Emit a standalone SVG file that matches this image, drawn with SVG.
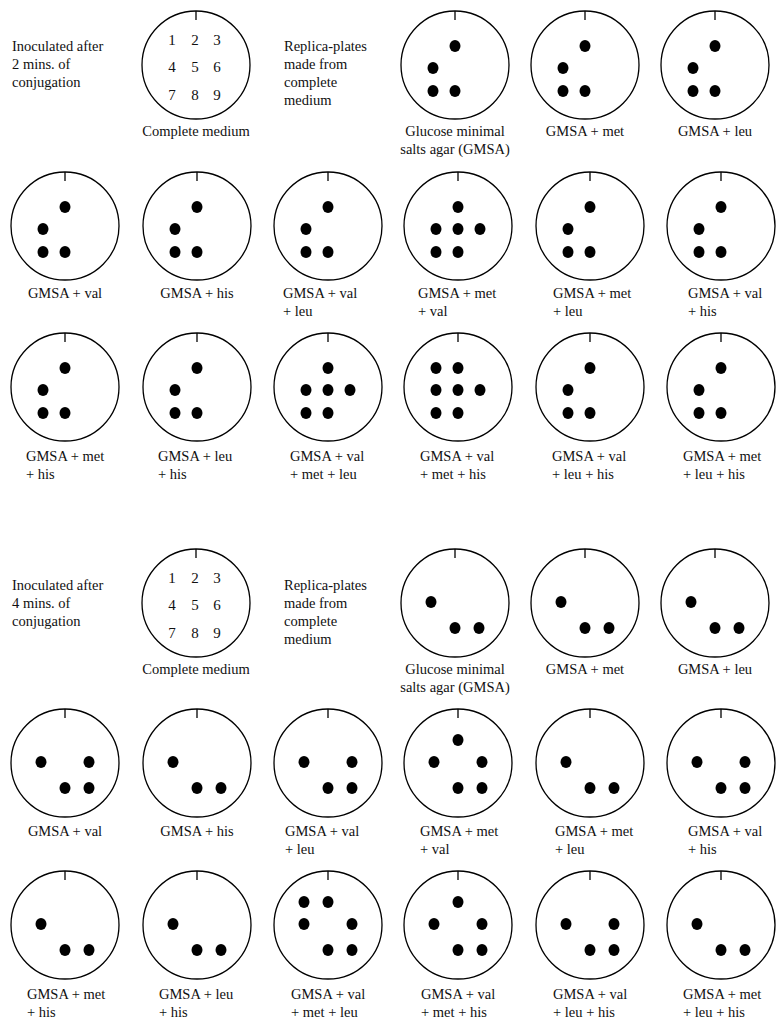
<svg xmlns="http://www.w3.org/2000/svg" width="779" height="1024" viewBox="0 0 779 1024">
<style>
.p{fill:none;stroke:#000;stroke-width:1.3}
.d{fill:#000}
text{font-family:"Liberation Serif",serif;font-size:14.5px;fill:#111}
.c{text-anchor:middle}
.n{text-anchor:middle;font-size:15px}
</style>
<defs>
<g id="plate"><circle class="p" r="54"/><line class="p" x1="0" y1="-54" x2="0" y2="-45"/></g>
<ellipse id="dot" class="d" rx="5.5" ry="6"/>
<g id="tb"><use href="#dot" x="0" y="-19"/><use href="#dot" x="-22" y="3"/><use href="#dot" x="-22" y="26"/><use href="#dot" x="0" y="26"/></g>
<g id="bb"><use href="#dot" x="-24" y="-1"/><use href="#dot" x="0" y="25"/><use href="#dot" x="24" y="25"/></g>
<g id="b4"><use href="#bb"/><use href="#dot" x="24" y="-1"/></g>
<g id="b5"><use href="#b4"/><use href="#dot" x="0" y="-23"/></g>
</defs>

<text x="12" y="51">Inoculated after</text><text x="12" y="69">2 mins. of</text><text x="12" y="87">conjugation</text>
<text x="284" y="51">Replica-plates</text><text x="284" y="69">made from</text><text x="284" y="87">complete</text><text x="284" y="105">medium</text>
<g id="top-complete" transform="translate(196,65)"><use href="#plate"/>
<text class="n" x="-24" y="-20">1</text><text class="n" x="-1" y="-20">2</text><text class="n" x="21" y="-20">3</text>
<text class="n" x="-24" y="7">4</text><text class="n" x="-1" y="7">5</text><text class="n" x="21" y="7">6</text>
<text class="n" x="-24" y="35">7</text><text class="n" x="-1" y="35">8</text><text class="n" x="21" y="35">9</text>
<text class="c" x="0" y="71">Complete medium</text></g>
<g id="t-gmsa" transform="translate(455,65)"><use href="#plate"/><use href="#tb"/><text class="c" y="71">Glucose minimal</text><text class="c" y="89">salts agar (GMSA)</text></g>
<g id="t-met" transform="translate(585,65)"><use href="#plate"/><use href="#tb"/><text class="c" y="71">GMSA + met</text></g>
<g id="t-leu" transform="translate(715,65)"><use href="#plate"/><use href="#tb"/><text class="c" y="71">GMSA + leu</text></g>

<g id="t-val" transform="translate(65,226)"><use href="#plate"/><use href="#tb"/><text class="c" y="72">GMSA + val</text></g>
<g id="t-his" transform="translate(197,226)"><use href="#plate"/><use href="#tb"/><text class="c" y="72">GMSA + his</text></g>
<g id="t-valleu" transform="translate(328,226)"><use href="#plate"/><use href="#tb"/><text x="-45" y="72">GMSA + val</text><text x="-45" y="90">+ leu</text></g>
<g id="t-metval" transform="translate(458,226)"><use href="#plate"/><use href="#tb"/><use href="#dot" x="0" y="3"/><use href="#dot" x="22" y="3"/><text x="-40" y="72">GMSA + met</text><text x="-40" y="90">+ val</text></g>
<g id="t-metleu" transform="translate(590,226)"><use href="#plate"/><use href="#tb"/><text x="-37" y="72">GMSA + met</text><text x="-37" y="90">+ leu</text></g>
<g id="t-valhis" transform="translate(721,226)"><use href="#plate"/><use href="#tb"/><text x="-33" y="72">GMSA + val</text><text x="-33" y="90">+ his</text></g>

<g id="t-methis" transform="translate(65,387)"><use href="#plate"/><use href="#tb"/><text x="-39" y="74">GMSA + met</text><text x="-39" y="92">+ his</text></g>
<g id="t-leuhis" transform="translate(197,387)"><use href="#plate"/><use href="#tb"/><text x="-39" y="74">GMSA + leu</text><text x="-39" y="92">+ his</text></g>
<g id="t-valmetleu" transform="translate(328,387)"><use href="#plate"/><use href="#tb"/><use href="#dot" x="0" y="3"/><use href="#dot" x="22" y="3"/><text x="-38" y="74">GMSA + val</text><text x="-38" y="92">+ met + leu</text></g>
<g id="t-valmethis" transform="translate(458,387)"><use href="#plate"/><use href="#tb"/><use href="#dot" x="0" y="3"/><use href="#dot" x="22" y="3"/><use href="#dot" x="-22" y="-19"/><text x="-38" y="74">GMSA + val</text><text x="-38" y="92">+ met + his</text></g>
<g id="t-valleuhis" transform="translate(590,387)"><use href="#plate"/><use href="#tb"/><text x="-38" y="74">GMSA + val</text><text x="-38" y="92">+ leu + his</text></g>
<g id="t-metleuhis" transform="translate(721,387)"><use href="#plate"/><use href="#tb"/><text x="-38" y="74">GMSA + met</text><text x="-38" y="92">+ leu + his</text></g>

<text x="12" y="590">Inoculated after</text><text x="12" y="608">4 mins. of</text><text x="12" y="626">conjugation</text>
<text x="284" y="590">Replica-plates</text><text x="284" y="608">made from</text><text x="284" y="626">complete</text><text x="284" y="644">medium</text>
<g id="bottom-complete" transform="translate(196,603)"><use href="#plate"/>
<text class="n" x="-24" y="-20">1</text><text class="n" x="-1" y="-20">2</text><text class="n" x="21" y="-20">3</text>
<text class="n" x="-24" y="7">4</text><text class="n" x="-1" y="7">5</text><text class="n" x="21" y="7">6</text>
<text class="n" x="-24" y="35">7</text><text class="n" x="-1" y="35">8</text><text class="n" x="21" y="35">9</text>
<text class="c" x="0" y="71">Complete medium</text></g>
<g id="b-gmsa" transform="translate(455,603)"><use href="#plate"/><use href="#bb"/><text class="c" y="71">Glucose minimal</text><text class="c" y="89">salts agar (GMSA)</text></g>
<g id="b-met" transform="translate(585,603)"><use href="#plate"/><use href="#bb"/><text class="c" y="71">GMSA + met</text></g>
<g id="b-leu" transform="translate(715,603)"><use href="#plate"/><use href="#bb"/><text class="c" y="71">GMSA + leu</text></g>

<g id="b-val" transform="translate(65,763)"><use href="#plate"/><use href="#b4"/><text class="c" y="73">GMSA + val</text></g>
<g id="b-his" transform="translate(197,763)"><use href="#plate"/><use href="#bb"/><text class="c" y="73">GMSA + his</text></g>
<g id="b-valleu" transform="translate(328,763)"><use href="#plate"/><use href="#b4"/><text x="-43" y="73">GMSA + val</text><text x="-43" y="91">+ leu</text></g>
<g id="b-metval" transform="translate(458,763)"><use href="#plate"/><use href="#b5"/><text x="-38" y="73">GMSA + met</text><text x="-38" y="91">+ val</text></g>
<g id="b-metleu" transform="translate(590,763)"><use href="#plate"/><use href="#bb"/><text x="-35" y="73">GMSA + met</text><text x="-35" y="91">+ leu</text></g>
<g id="b-valhis" transform="translate(721,763)"><use href="#plate"/><use href="#b4"/><text x="-33" y="73">GMSA + val</text><text x="-33" y="91">+ his</text></g>

<g id="b-methis" transform="translate(65,925)"><use href="#plate"/><use href="#bb"/><text x="-38" y="74">GMSA + met</text><text x="-38" y="92">+ his</text></g>
<g id="b-leuhis" transform="translate(197,925)"><use href="#plate"/><use href="#bb"/><text x="-38" y="74">GMSA + leu</text><text x="-38" y="92">+ his</text></g>
<g id="b-valmetleu" transform="translate(328,925)"><use href="#plate"/><use href="#b5"/><use href="#dot" x="-24" y="-23"/><text x="-37" y="74">GMSA + val</text><text x="-37" y="92">+ met + leu</text></g>
<g id="b-valmethis" transform="translate(458,925)"><use href="#plate"/><use href="#b5"/><text x="-37" y="74">GMSA + val</text><text x="-37" y="92">+ met + his</text></g>
<g id="b-valleuhis" transform="translate(590,925)"><use href="#plate"/><use href="#b4"/><text x="-37" y="74">GMSA + val</text><text x="-37" y="92">+ leu + his</text></g>
<g id="b-metleuhis" transform="translate(721,925)"><use href="#plate"/><use href="#bb"/><text x="-38" y="74">GMSA + met</text><text x="-38" y="92">+ leu + his</text></g>
<g id="connectors"/>
</svg>
